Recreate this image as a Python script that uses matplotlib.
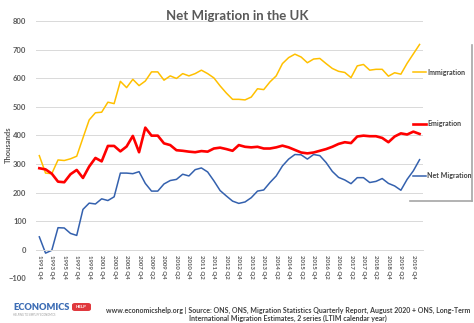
import matplotlib.pyplot as plt
from matplotlib.lines import Line2D
from matplotlib.patches import FancyBboxPatch

plt.rcParams['font.family'] = ['Lato', 'DejaVu Sans']

# categories: annual LTIM 1991-2008, then rolling quarters
periods = [f"{y} Q4" for y in range(1991, 2009)]
periods += [f"2009 Q{q}" for q in (2, 3, 4)]
periods += [f"{y} Q{q}" for y in range(2010, 2020) for q in (1, 2, 3, 4)]
periods += ["2020 Q1"]

immigration = [329, 268, 266, 314, 312, 318, 327, 391, 454, 479, 481, 516, 511, 589, 567, 596, 574, 590,
               622, 622, 593, 608, 599, 616,
               608, 616, 628, 616, 601, 573, 548, 526, 526, 524, 534, 563,
               560, 587, 608, 651, 672, 684, 674, 654, 667, 669, 651,
               634, 624, 620, 602, 643, 648, 628, 631, 631, 607, 619, 614, 652, 685, 718]
emigration = [285, 281, 266, 238, 236, 264, 279, 251, 291, 321, 309, 363, 363, 344, 361, 398, 341, 427,
              399, 399, 372, 366, 348, 346,
              343, 341, 345, 343, 354, 357, 352, 346, 366, 360, 358, 360,
              354, 354, 358, 364, 358, 349, 340, 337, 340, 346, 352,
              360, 370, 376, 373, 396, 399, 397, 397, 391, 376, 396, 407, 403, 413, 405]
net_migration = [45, -12, -2, 77, 76, 57, 50, 141, 163, 160, 178, 172, 185, 268, 268, 266, 273, 232,
                 205, 205, 230, 242, 246, 264,
                 258, 280, 286, 272, 241, 207, 188, 170, 162, 167, 182, 205,
                 209, 235, 258, 293, 317, 333, 332, 317, 333, 329, 305,
                 274, 253, 244, 231, 252, 252, 235, 239, 249, 232, 223, 208, 246, 276, 315]

W, H = 474, 323
fig = plt.figure(figsize=(W / 100, H / 100), dpi=100)
ax = fig.add_axes([36.2 / W, 1 - 278.3 / H, 386.5 / W, 257.3 / H])

x = range(len(periods))
l1, = ax.plot(x, immigration, color='#FFC000', lw=1.1, label='Immigration')
l2, = ax.plot(x, emigration, color='#FF0000', lw=1.9, label='Emigration')
l3, = ax.plot(x, net_migration, color='#3461AE', lw=1.1, label='Net Migration')

ax.set_xlim(-0.5, len(periods) - 0.5)
ax.set_ylim(-100, 800)
ax.set_yticks(range(-100, 801, 100))
ax.grid(axis='y', color='#d9d9d9', lw=0.7)
ax.set_axisbelow(True)
for s in ['top', 'right', 'left']:
    ax.spines[s].set_visible(False)
ax.spines['bottom'].set_position(('data', 0))
ax.spines['bottom'].set_color('#d9d9d9')
ax.spines['bottom'].set_linewidth(0.7)

ax.set_xticks(list(x)[::2])
ax.set_xticklabels(periods[::2], rotation=-90, fontsize=4.3, fontweight='bold', color='#595959')
ax.tick_params(axis='x', length=0, pad=3.5)
ax.tick_params(axis='y', length=0, pad=7, labelsize=5.5, labelcolor='#595959')
for t in ax.get_yticklabels():
    t.set_fontweight('bold')
fig.text(8 / W, 1 - 145 / H, 'Thousands', rotation=90, ha='center', va='center',
         fontsize=5.5, fontweight='bold', color='#595959')

fig.text(0.5, 1 - 16 / H, 'Net Migration in the UK', ha='center', va='center',
         fontsize=9.5, fontweight='bold', color='#595959')

# legend on the right with its shadow edges
ax.legend(handles=[l1, l2, l3], loc='upper left', bbox_to_anchor=(413 / W, 1 - 68.5 / H),
          bbox_transform=fig.transFigure, frameon=False, handlelength=1.9,
          handletextpad=0.15, labelspacing=6.45, borderaxespad=0, borderpad=0,
          prop={'weight': 'bold', 'size': 5})
for leg_text in ax.get_legend().get_texts():
    leg_text.set_color('#404040')
fig.add_artist(Line2D([472 / W, 472 / W], [1 - 45 / H, 1 - 201 / H], color='#a6a6a6', lw=1.2))
fig.add_artist(Line2D([410 / W, 472 / W], [1 - 201 / H, 1 - 201 / H], color='#a6a6a6', lw=1.2))

# footer
fig.text(13 / W, 1 - 307 / H, 'ECONOMICS', fontsize=6.7, fontweight='heavy', color='#3D6DB5',
         ha='left', va='center')
fig.patches.append(FancyBboxPatch((72 / W, 1 - 311 / H), 19 / W, 8 / H,
                                  boxstyle='round,pad=0,rounding_size=0.006',
                                  transform=fig.transFigure, facecolor='#E0393E', edgecolor='none'))
fig.text(81.5 / W, 1 - 307 / H, 'HELP', fontsize=3.2, fontweight='bold', color='white',
         ha='center', va='center')
fig.text(13 / W, 1 - 315 / H, 'HELPING TO SIMPLIFY ECONOMICS', fontsize=1.8, color='#999999',
         ha='left', va='center')
fig.text(288 / W, 1 - 310 / H,
         'www.economicshelp.org | Source: ONS, ONS, Migration Statistics Quarterly Report, August 2020 + ONS, Long-Term',
         fontsize=5.05, fontweight='bold', color='#404040', ha='center', va='center')
fig.text(288 / W, 1 - 318.5 / H,
         'International Migration Estimates, 2 series (LTIM calendar year)',
         fontsize=5.05, fontweight='bold', color='#404040', ha='center', va='center')

fig.savefig('out.png', dpi=100, facecolor='white')
